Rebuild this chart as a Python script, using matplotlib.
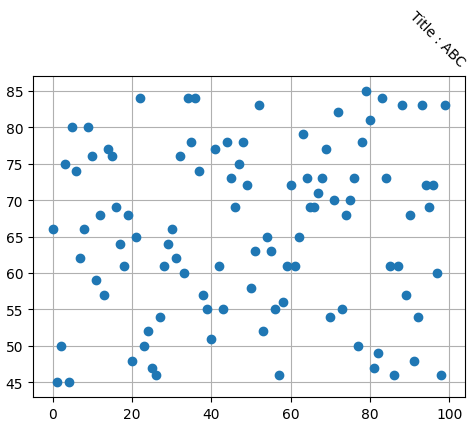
import matplotlib
matplotlib.use("Agg")
import matplotlib.pyplot as plt

x_values = list(range(100))
y_values = [66, 45, 50, 75, 45, 80, 74, 62, 66, 80,
            76, 59, 68, 57, 77, 76, 69, 64, 61, 68,
            48, 65, 84, 50, 52, 47, 46, 54, 61, 64,
            66, 62, 76, 60, 84, 78, 84, 74, 57, 55,
            51, 77, 61, 55, 78, 73, 69, 75, 78, 72,
            58, 63, 83, 52, 65, 63, 55, 46, 56, 61,
            72, 61, 65, 79, 73, 69, 69, 71, 73, 77,
            54, 70, 82, 55, 68, 70, 73, 50, 78, 85,
            81, 47, 49, 84, 73, 61, 46, 61, 83, 57,
            68, 48, 54, 83, 72, 69, 72, 60, 46, 83]
title_text = "Title : ABC"

fig = plt.figure(figsize=(4.74, 4.27), dpi=100)
ax = fig.add_axes([33/474, 1-398/427, (465-33)/474, (398-77)/427])
ax.scatter(x_values, y_values, color="#1f77b4", s=36, zorder=3)
ax.grid(True, zorder=0)
ax.set_axisbelow(True)
ax.set_yticks(range(45, 86, 5))
ax.set_xticks(range(0, 101, 20))
fig.text(437/474, 1-40/427, title_text, rotation=-45, ha="center", va="center", fontsize=10)
fig.savefig("out.png", dpi=100)
